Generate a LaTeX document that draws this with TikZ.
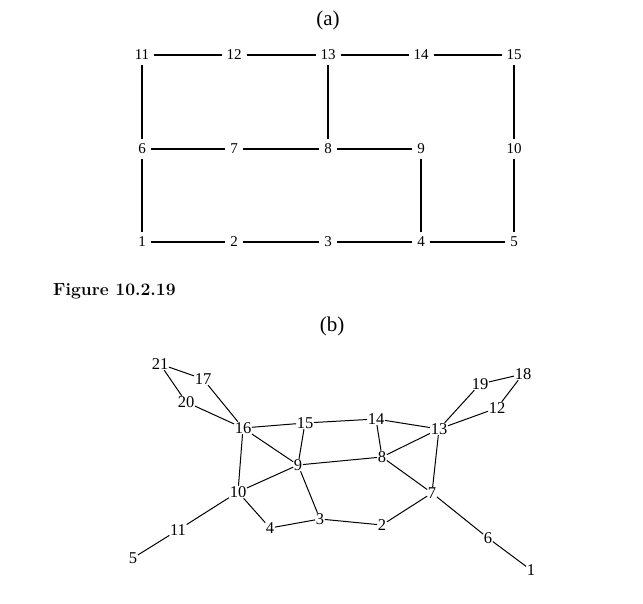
\documentclass[tikz,border=0pt]{standalone}
\usepackage{fontspec}
\newfontfamily\labelfont{Liberation Serif}
\usetikzlibrary{positioning}

\begin{document}
\begin{tikzpicture}[
  x=1pt, y=-1pt,
  avtx/.style={font=\labelfont\fontsize{15}{15}\selectfont, inner sep=3pt, outer sep=2pt},
  bvtx/.style={font=\labelfont\fontsize{16.5}{16.5}\selectfont, inner sep=0.5pt},
  edge/.style={line width=1.2pt},
  title/.style={font=\labelfont\fontsize{21}{21}\selectfont}
]
\useasboundingbox (0,0) rectangle (643,603);

% part (a): the grid
\node[title] (ta) at (328,20) {(a)};
\foreach \n/\x/\y in {1/142/242, 2/234/242, 3/328/242, 4/421/242, 5/514/242,
                      6/142/149, 7/234/149, 8/328/149, 9/421/149, 10/514/149,
                      11/142/55, 12/234/55, 13/328/55, 14/421/55, 15/514/55}
  \node[avtx] (a\n) at (\x,\y) {\n};
\foreach \u/\v in {11/12, 12/13, 13/14, 14/15, 6/7, 7/8, 8/9, 1/2, 2/3, 3/4, 4/5,
                   11/6, 6/1, 13/8, 9/4, 15/10, 10/5}
  \draw[edge] (a\u) -- (a\v);

\node[font=\bfseries\fontsize{17.5}{17.5}\selectfont, anchor=west, inner sep=0pt] (cap) at (53,291) {Figure 10.2.19};

% part (b)
\node[title] (tb) at (332,326) {(b)};
\node[bvtx] (b21) at (160,364) {21};
\node[bvtx] (b17) at (203,379) {17};
\node[bvtx] (b20) at (186,402) {20};
\node[bvtx] (b16) at (243,428) {16};
\node[bvtx] (b15) at (305,423) {15};
\node[bvtx] (b14) at (376,419) {14};
\node[bvtx] (b13) at (439,429) {13};
\node[bvtx] (b19) at (480,384) {19};
\node[bvtx] (b18) at (523,374) {18};
\node[bvtx] (b12) at (497,408) {12};
\node[bvtx] (b9) at (298,465) {9};
\node[bvtx] (b8) at (382,457) {8};
\node[bvtx] (b7) at (432,493) {7};
\node[bvtx] (b10) at (238,492) {10};
\node[bvtx] (b4) at (270,528) {4};
\node[bvtx] (b3) at (320,519) {3};
\node[bvtx] (b2) at (382,525) {2};
\node[bvtx] (b11) at (178,530) {11};
\node[bvtx] (b5) at (133,558) {5};
\node[bvtx] (b6) at (488,538) {6};
\node[bvtx] (b1) at (531,570) {1};
\foreach \u/\v in {21/17, 21/20, 17/16, 20/16, 16/15, 16/9, 16/10, 15/14, 15/9,
                   14/13, 14/8, 13/19, 13/12, 19/18, 18/12, 13/8, 13/7, 9/8,
                   9/10, 9/3, 8/7, 7/2, 7/6, 6/1, 10/4, 10/11, 11/5, 4/3, 3/2}
  \draw[edge, line width=1pt] (b\u) -- (b\v);
\end{tikzpicture}
\end{document}
